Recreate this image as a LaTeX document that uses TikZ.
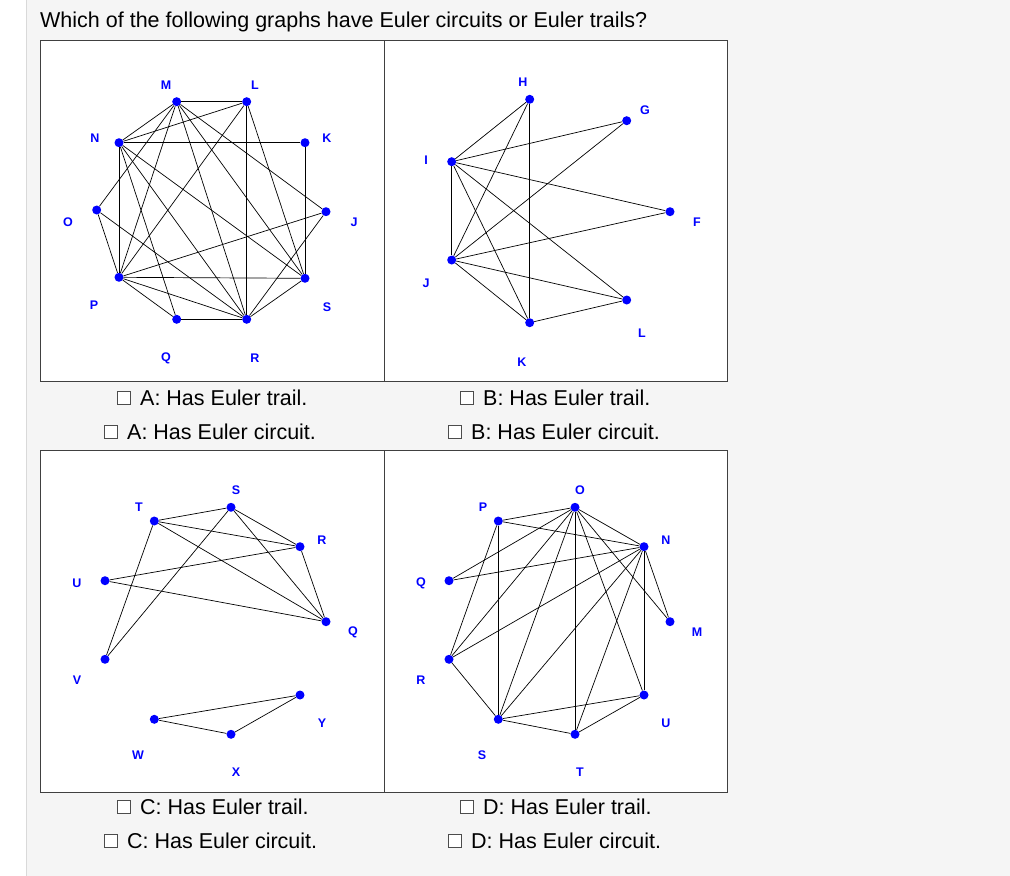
\documentclass[tikz,border=0pt]{standalone}
\usepackage{fontspec}
\setmainfont{Liberation Sans}
\begin{document}
\begin{tikzpicture}[x=1pt,y=-1pt,
 v/.style={circle,fill=blue,inner sep=0pt,minimum size=9pt},
 lb/.style={text=blue,font=\fontsize{12.5}{12.5}\selectfont\bfseries},
 e/.style={black,line width=0.7pt},
 panel/.style={draw=black!75,fill=white,line width=1pt},
 cb/.style={draw=black!70,fill=white,line width=0.8pt,minimum size=13pt,inner sep=0pt},
 tx/.style={font=\fontsize{21.5}{24}\selectfont,anchor=west,inner sep=0pt}]
\useasboundingbox (0,0) rectangle (1010,876);
\fill[white] (0,0) rectangle (1010,876);
\fill[black!4] (26,0) rectangle (1010,876);
\draw[black!15] (26,0) -- (26,876);
\node[tx] (title) at (40,22) {Which of the following graphs have Euler circuits or Euler trails?};
\draw[panel] (40,40) rectangle (384,381);
\draw[panel] (384,40) rectangle (727,381);
\draw[panel] (40,450) rectangle (384,792);
\draw[panel] (384,450) rectangle (727,792);
% Panel A
\foreach \n/\x/\y in {aM/176.7/101.7,aL/246.7/101.7,aN/119/142.7,aK/305/142.7,aO/96.7/210,aJ/326/211.7,aP/119/277.3,aS/305/278.3,aQ/176.7/319.3,aR/246.7/319.3} \node[v] (\n) at (\x,\y) {};
\foreach \t/\x/\y in {M/166/85,L/255/85,N/95/138,K/327/138,O/68/222,J/354/222,P/94/305,S/327/307,Q/166/358,R/255/358} \node[lb] (la\t) at (\x,\y) {\t};
\foreach \a/\b in {M/L,M/N,M/O,M/P,M/R,M/S,M/J,L/N,L/P,L/R,L/S,N/K,N/P,N/Q,N/R,N/S,K/S,J/P,J/R,O/P,O/R,P/S,P/Q,P/R,Q/R,R/S}
 \draw[e] (a\a) -- (a\b);
% Panel B
\foreach \n/\x/\y in {bH/529.7/99.3,bG/626.7/120.7,bI/451.7/161.7,bF/670/211.7,bJ/451.7/260,bL/626.7/300,bK/529.7/322.7} \node[v] (\n) at (\x,\y) {};
\foreach \t/\x/\y in {H/523/82,G/645/110,I/426/160,F/697/222,J/426/283,L/642/333,K/522/362} \node[lb] (lb\t) at (\x,\y) {\t};
\foreach \a/\b in {H/I,H/J,H/K,G/I,G/J,I/F,I/J,I/K,I/L,J/F,J/L,J/K,K/L}
 \draw[e] (b\a) -- (b\b);
% Panel C
\foreach \n/\x/\y in {cS/231/507.3,cT/154.3/521,cR/300/546.7,cU/105/580.7,cQ/326/621.7,cV/105/659.3,cY/300/695,cW/154.3/719.3,cX/231/734.3} \node[v] (\n) at (\x,\y) {};
\foreach \t/\x/\y in {S/236/490,T/139/507,R/322/540,U/77/583,Q/353/632,V/77/680,Y/322/723,W/138/755,X/236/772} \node[lb] (lc\t) at (\x,\y) {\t};
\foreach \a/\b in {T/S,T/R,T/Q,T/V,S/R,S/Q,S/V,R/U,R/Q,U/Q,W/Y,W/X,X/Y}
 \draw[e] (c\a) -- (c\b);
% Panel D
\foreach \n/\x/\y in {dO/575/507.3,dP/498.3/521,dN/644/546.7,dQ/449/580.7,dM/670/621.7,dR/449/659.3,dU/644/695,dS/498.3/719.3,dT/575/734.3} \node[v] (\n) at (\x,\y) {};
\foreach \t/\x/\y in {O/580/490,P/483/507,N/666/540,Q/421/583,M/697/632,R/421/680,U/666/723,S/482/755,T/580/772} \node[lb] (ld\t) at (\x,\y) {\t};
\foreach \a/\b in {O/P,O/N,O/Q,O/R,O/S,O/T,O/U,O/M,P/N,P/R,P/S,N/Q,N/R,N/S,N/T,N/U,N/M,R/S,S/U,S/T,T/U}
 \draw[e] (d\a) -- (d\b);
% checkboxes
\node[cb] (c1) at (124,398) {}; \node[tx] (t1) at (140,398) {A: Has Euler trail.};
\node[cb] (c2) at (111,432) {}; \node[tx] (t2) at (127,432) {A: Has Euler circuit.};
\node[cb] (c3) at (467,398) {}; \node[tx] (t3) at (483,398) {B: Has Euler trail.};
\node[cb] (c4) at (455,432) {}; \node[tx] (t4) at (471,432) {B: Has Euler circuit.};
\node[cb] (c5) at (124,807) {}; \node[tx] (t5) at (140,807) {C: Has Euler trail.};
\node[cb] (c6) at (111,841) {}; \node[tx] (t6) at (127,841) {C: Has Euler circuit.};
\node[cb] (c7) at (467,807) {}; \node[tx] (t7) at (483,807) {D: Has Euler trail.};
\node[cb] (c8) at (455,841) {}; \node[tx] (t8) at (471,841) {D: Has Euler circuit.};
\end{tikzpicture}
\end{document}
